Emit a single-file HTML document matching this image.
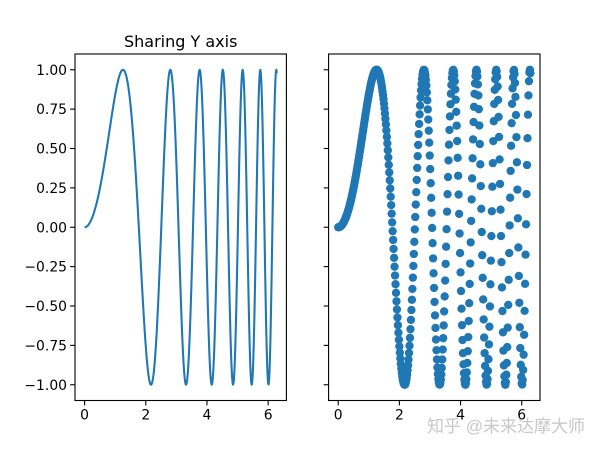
<!DOCTYPE html>
<html><head><meta charset="utf-8"><style>
html,body{margin:0;padding:0;background:#fff;}
svg{display:block;font-family:"DejaVu Sans","Liberation Sans",sans-serif;}
</style></head><body>
<svg id="fig" width="600" height="450" xmlns="http://www.w3.org/2000/svg"></svg>
<script>
// Data: 400 samples over [0, 2π] — the chart plots y = sin(x²)
const sampleCount = 400;
const xStart = 0;
const xEnd = 2 * Math.PI;
const xValues = [];
const yValues = [];
for (let i = 0; i < sampleCount; i++) { const x = xStart + (xEnd - xStart) * i / (sampleCount - 1); xValues.push(x); yValues.push(Math.sin(x * x)); }
const xTicks = [0, 2, 4, 6];
const yTicks = [-1, -0.75, -0.5, -0.25, 0, 0.25, 0.5, 0.75, 1];
const yTickLabels = ["\u22121.00", "\u22120.75", "\u22120.50", "\u22120.25", "0.00", "0.25", "0.50", "0.75", "1.00"];

const NS = "http://www.w3.org/2000/svg";
const svgRoot = document.getElementById('fig');
function mk(tag, attrs, parent) { const e = document.createElementNS(NS, tag); for (const k in attrs) e.setAttribute(k, attrs[k]); (parent || svgRoot).appendChild(e); return e; }
const xMin = -0.05 * (xEnd - xStart), xMax = xEnd + 0.05 * (xEnd - xStart);
const yMin = -1.1, yMax = 1.1;
const axTop = 54, axBottom = 400.5;
const axesDefs = [{ l: 75, r: 286.4, name: 'left' }, { l: 328.6, r: 540, name: 'right' }];
const color = '#1f77b4';

axesDefs.forEach((ax, idx) => {
  const sx = v => ax.l + (v - xMin) / (xMax - xMin) * (ax.r - ax.l);
  const sy = v => axBottom - (v - yMin) / (yMax - yMin) * (axBottom - axTop);
  const g = mk('g', {});
  
  
  if (idx === 0) {
    let d = '';
    xValues.forEach((x, i) => { d += (i ? 'L' : 'M') + sx(x).toFixed(2) + ',' + sy(yValues[i]).toFixed(2); });
    const p = mk('path', { d: d, fill: 'none', stroke: color, 'stroke-width': 2.08, 'stroke-linejoin': 'round' }, g);
    
    
  } else {
    const sg = mk('g', { fill: color }, g);
    
    
    xValues.forEach((x, i) => {
      const c = mk('circle', { cx: sx(x).toFixed(2), cy: sy(yValues[i]).toFixed(2), r: 4.17 }, sg);
      
      
    });
  }
  const frame = mk('rect', { x: ax.l, y: axTop, width: ax.r - ax.l, height: axBottom - axTop, fill: 'none', stroke: '#000', 'stroke-width': 1.1 }, g);
  
  
  xTicks.forEach(t => {
    const x = sx(t);
    mk('line', { x1: x, x2: x, y1: axBottom, y2: axBottom + 4.9, stroke: '#000', 'stroke-width': 1.1 }, g);
    const tx = mk('text', { x: x, y: axBottom + 19, 'font-size': 13.9, 'text-anchor': 'middle' }, g);
    tx.textContent = String(t);
    
    
  });
  yTicks.forEach((t, i) => {
    const y = sy(t);
    mk('line', { x1: ax.l - 4.9, x2: ax.l, y1: y, y2: y, stroke: '#000', 'stroke-width': 1.1 }, g);
    if (idx === 0) {
      const ty = mk('text', { x: ax.l - 8, y: y + 5, 'font-size': 13.9, 'text-anchor': 'end' }, g);
      ty.textContent = yTickLabels[i];
      
      
    }
  });
  if (idx === 0) {
    const title = mk('text', { x: (ax.l + ax.r) / 2, y: 47, 'font-size': 16, 'text-anchor': 'middle' }, g);
    title.textContent = 'Sharing Y axis';
    
    
  }
});
const wm = mk('text', { x: 585, y: 432, 'font-size': 17, 'text-anchor': 'end', fill: '#c8c8c8', 'font-family': '"Liberation Sans","Noto Sans CJK SC",sans-serif' });
wm.textContent = '知乎 @未来达摩大师';


</script>
</body></html>
